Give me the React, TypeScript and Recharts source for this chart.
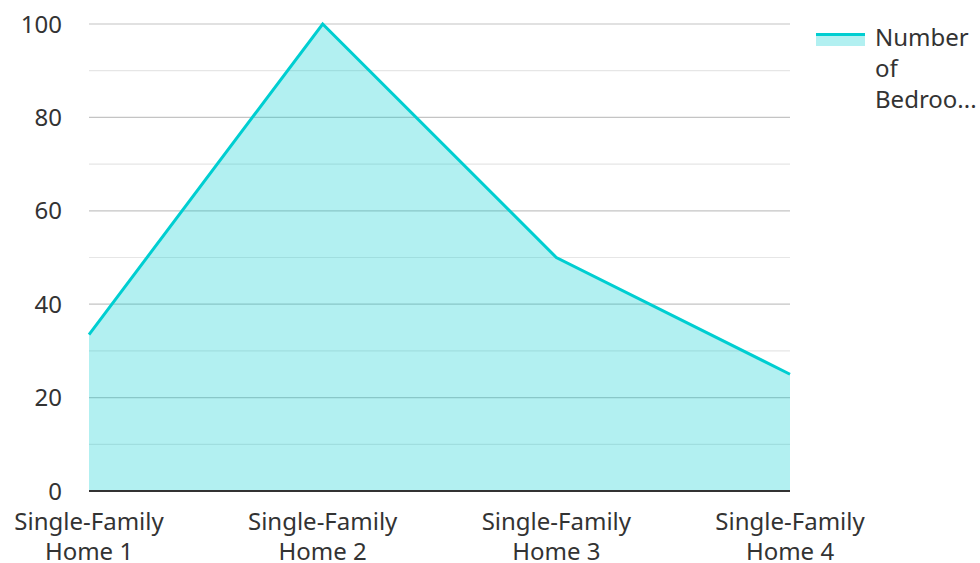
import { AreaChart, Area, XAxis, YAxis, CartesianGrid } from "recharts";

const homes = ["Single-Family Home 1", "Single-Family Home 2", "Single-Family Home 3", "Single-Family Home 4"];
const bedrooms = [33.5, 100, 50, 25];
const seriesName = "Number of Bedrooms";
const majorTicks = [0, 20, 40, 60, 80, 100];
const minorTicks = [10, 30, 50, 70, 90];

const data = homes.map((h, i) => ({ name: h, bedrooms: bedrooms[i] }));

const FONT = "'Noto Sans', 'Open Sans', sans-serif";
const TEAL = "#00ced1";

// category labels are split into two lines like "Single-Family" / "Home 1"
const XTick = (props: any) => {
  const { x, y, payload } = props;
  const words = String(payload.value).split(" ");
  const first = words[0];
  const rest = words.slice(1).join(" ");
  return (
    <text x={x} y={y} textAnchor="middle" fill="#333" fontSize={24} fontFamily={FONT}>
      <tspan x={x} dy={31}>{first}</tspan>
      <tspan x={x} dy={30}>{rest}</tspan>
    </text>
  );
};

const App = () => {
  return (
    <div style={{ position: "absolute", left: 0, top: 0, width: 980, height: 563, fontFamily: FONT }}>
      <AreaChart
        width={980}
        height={563}
        data={data}
        margin={{ top: 24, right: 190, left: 0, bottom: 0 }}
      >
        <CartesianGrid vertical={false} horizontalValues={minorTicks} stroke="#e6e6e6" strokeWidth={1.2} />
        <CartesianGrid vertical={false} horizontalValues={majorTicks} stroke="#c4c4c4" strokeWidth={1.2} />
        <XAxis
          dataKey="name"
          height={72}
          tick={<XTick />}
          tickLine={false}
          axisLine={{ stroke: "#333", strokeWidth: 2 }}
          interval={0}
        />
        <YAxis
          width={89}
          domain={[0, 100]}
          ticks={majorTicks}
          tickLine={false}
          axisLine={false}
          tickMargin={21}
          tick={{ fill: "#333", fontSize: 24, fontFamily: FONT }}
        />
        <Area
          type="linear"
          dataKey="bedrooms"
          name={seriesName}
          stroke={TEAL}
          strokeWidth={3}
          fill={TEAL}
          fillOpacity={0.3}
          isAnimationActive={false}
        />
      </AreaChart>
      <div style={{ position: "absolute", left: 816, top: 22, display: "flex" }}>
        <div style={{ width: 49, marginTop: 11 }}>
          <div style={{ height: 3, background: TEAL }} />
          <div style={{ height: 10, background: TEAL, opacity: 0.3 }} />
        </div>
        <div
          style={{
            marginLeft: 10,
            width: 105,
            fontSize: 24,
            lineHeight: "31px",
            color: "#333",
            marginTop: -1,
          }}
        >
          Number
          <br />
          of
          <br />
          Bedroo...
        </div>
      </div>
    </div>
  );
};

export default App;
